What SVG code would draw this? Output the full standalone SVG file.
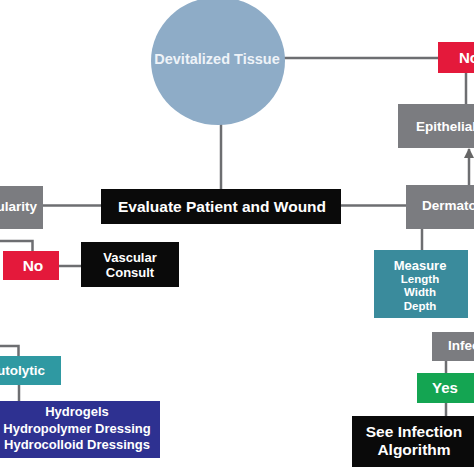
<svg xmlns="http://www.w3.org/2000/svg" width="474" height="474" viewBox="0 0 474 474">
<defs>
<marker id="arr" viewBox="0 0 10 10" refX="9" refY="5" markerWidth="4" markerHeight="4" orient="auto"><path d="M0,0 L10,5 L0,10 z" fill="#666"/></marker>
</defs>
<style>
text{font-family:"Liberation Sans",Arial,sans-serif;font-weight:bold;fill:#fff;text-anchor:middle}
.c{stroke:#6d6e71;stroke-width:2.5;fill:none}
.gray{fill:#7b7c80}
.red{fill:#e4193b}
.blk{fill:#0a0a0a}
.teal{fill:#3a8b9c}
.teal2{fill:#2f99a2}
.grn{fill:#14a552}
.blu{fill:#2e3191}
</style>
<rect width="474" height="474" fill="#fff"/>
<g id="connectors">
<line class="c" x1="221" y1="120" x2="221" y2="190"/>
<line class="c" x1="280" y1="58" x2="438" y2="58"/>
<line class="c" x1="466" y1="73" x2="466" y2="104"/>
<line class="c" x1="469" y1="186" x2="469" y2="149" marker-end="url(#arr)"/>
<line class="c" x1="341" y1="205.5" x2="406" y2="205.5"/>
<line class="c" x1="43" y1="205.5" x2="101" y2="205.5"/>
<line class="c" x1="422" y1="229" x2="422" y2="250"/>
<polyline class="c" points="0,241 32.5,241 32.5,251"/>
<line class="c" x1="59" y1="266" x2="81" y2="266"/>
<polyline class="c" points="0,346 18.5,346 18.5,356"/>
<line class="c" x1="19" y1="385" x2="19" y2="401"/>
<line class="c" x1="446" y1="361" x2="446" y2="374"/>
<line class="c" x1="446" y1="403" x2="446" y2="416"/>
</g>
<g id="devitalized">
<ellipse cx="218" cy="61" rx="67" ry="64" fill="#8eacc7"/>
<text x="217" y="63.5" font-size="14.5" style="fill:#eef3f8">Devitalized Tissue</text>
</g>
<g id="evaluate">
<rect class="blk" x="101" y="189" width="240" height="35"/>
<text x="222" y="211.5" font-size="15.5">Evaluate Patient and Wound</text>
</g>
<g id="no-top">
<rect class="red" x="438" y="42" width="40" height="31"/>
<text x="459" y="63" font-size="15" style="text-anchor:start">No</text>
</g>
<g id="epithelial">
<rect class="gray" x="398" y="104" width="80" height="44"/>
<text x="416" y="131" font-size="13.5" style="text-anchor:start">Epithelialization</text>
</g>
<g id="dermato">
<rect class="gray" x="406" y="185" width="72" height="44"/>
<text x="422" y="210" font-size="13.5" style="text-anchor:start">Dermatology</text>
</g>
<g id="vascularity">
<rect class="gray" x="-10" y="186" width="53" height="43"/>
<text x="37" y="211" font-size="13.5" style="text-anchor:end">Vascularity</text>
</g>
<g id="no-left">
<rect class="red" x="3" y="251" width="56" height="29"/>
<text x="33" y="271" font-size="15.5">No</text>
</g>
<g id="vascular-consult">
<rect class="blk" x="81" y="242" width="98" height="45"/>
<text x="130" y="261.5" font-size="13">Vascular</text>
<text x="130" y="277" font-size="13">Consult</text>
</g>
<g id="measure">
<rect class="teal" x="374" y="250" width="94" height="68"/>
<text x="420" y="269.5" font-size="13">Measure</text>
<text x="420" y="283" font-size="11.5">Length</text>
<text x="420" y="296" font-size="11.5">Width</text>
<text x="420" y="309.5" font-size="11.5">Depth</text>
</g>
<g id="infection">
<rect class="gray" x="432" y="332" width="46" height="29"/>
<text x="448" y="350" font-size="13.5" style="text-anchor:start">Infection</text>
</g>
<g id="yes">
<rect class="grn" x="417" y="373" width="61" height="30"/>
<text x="445" y="393" font-size="15">Yes</text>
</g>
<g id="see-infection">
<rect class="blk" x="352" y="416" width="126" height="51"/>
<text x="414" y="436.5" font-size="15.5">See Infection</text>
<text x="414" y="455" font-size="15.5">Algorithm</text>
</g>
<g id="autolytic">
<rect class="teal2" x="-10" y="356" width="71" height="29"/>
<text x="45" y="375" font-size="13.5" style="text-anchor:end">Autolytic</text>
</g>
<g id="dressings">
<rect class="blu" x="-10" y="401" width="170" height="57"/>
<text x="77" y="416" font-size="13">Hydrogels</text>
<text x="77" y="432.5" font-size="13">Hydropolymer Dressing</text>
<text x="77" y="448.5" font-size="13">Hydrocolloid Dressings</text>
</g>
</svg>
